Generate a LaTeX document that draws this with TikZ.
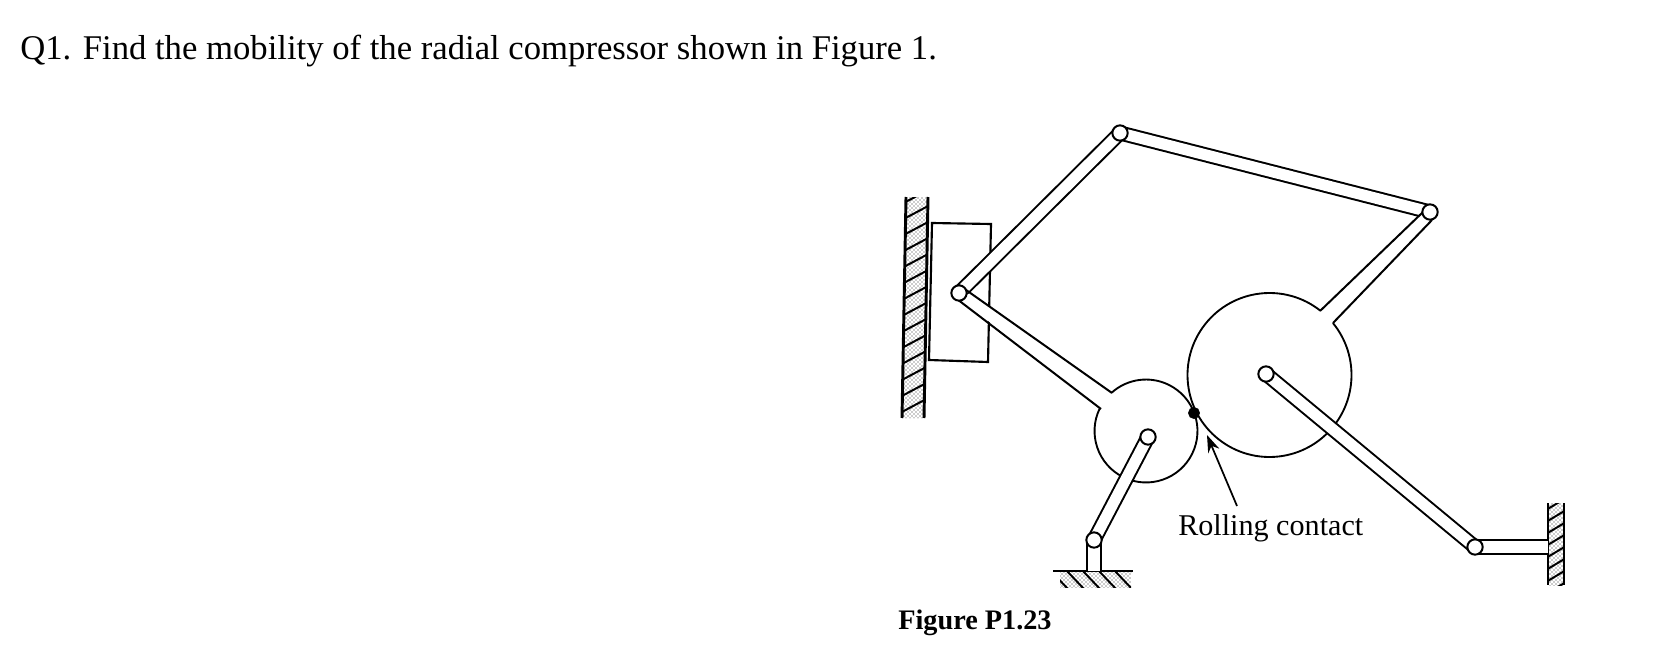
\documentclass[tikz,border=0pt]{standalone}
\usepackage{fontspec}
\setmainfont{Liberation Serif}
\usetikzlibrary{arrows.meta,backgrounds,patterns}
\begin{document}
\begin{tikzpicture}[
x=0.75pt, y=-0.75pt,
pivot/.style={circle, draw=black, fill=white, line width=1.5pt, inner sep=0pt, minimum size=11.5pt},
contact/.style={circle, draw=black, fill=black, inner sep=0pt, minimum size=8.5pt},
link/.style={draw=black, line width=1.5pt, double=white, double distance=8.3pt},
arm/.style={draw=black, line width=1.5pt},
wheel/.style={draw=black, line width=1.4pt},
block/.style={draw=black, fill=white, line width=1.6pt},
stipple/.style={pattern=crosshatch dots, pattern color=black!85},
stripe/.style={line width=1.5pt, draw=black},
wallside/.style={line width=2.2pt, draw=black},
leader/.style={line width=1.3pt, -{Stealth[length=13pt, width=9pt]}},
title/.style={anchor=base west, font=\fontsize{26pt}{28pt}\selectfont, inner sep=0pt},
caption/.style={anchor=base west, font=\fontsize{21.2pt}{24pt}\selectfont\bfseries, inner sep=0pt},
note/.style={anchor=base west, font=\fontsize{22.6pt}{24pt}\selectfont, inner sep=0pt},
]
\useasboundingbox (0,0) rectangle (1666,660);
\node[title] (question) at (20,60) {Q1. Find the mobility of the radial compressor shown in Figure 1.};
\node[caption] (figure) at (898,629) {Figure P1.23};
\node[note] (rolling) at (1178,535) {Rolling contact};
\node[pivot] (top) at (1120,133) {};
\node[pivot] (left) at (959,293) {};
\node[pivot] (right) at (1430,212) {};
\node[pivot] (bighub) at (1266,374) {};
\node[pivot] (smallhub) at (1148,437) {};
\node[pivot] (base) at (1094,540) {};
\node[pivot] (far) at (1475,547) {};
\node[contact] (touch) at (1194,413) {};
\coordinate (bigwheel) at (1269.5,375);
\coordinate (smallwheel) at (1146,431);
\coordinate (basefoot) at (1094,571);
\coordinate (farwall) at (1548,547);
\coordinate (tip) at (1207,435);
\coordinate (tail) at (1237,506);
\begin{pgfonlayer}{background}
	\begin{scope}
		\clip (906,197) -- (928,197) -- (924,418) -- (902,418) -- cycle;
		\path[stipple] (900,195) rectangle (930,420);
		\foreach \y in {205,221,...,425} {
			\draw[stripe] (900,\y) -- (930,\y-16);
		}
	\end{scope}
	\draw[wallside] (906,197) -- (902,418);
	\draw[wallside] (928,197) -- (924,418);
	\draw[block] (932,223) -- (991,224) -- (988,362) -- (929,360) -- cycle;
	\begin{scope}
		\clip (1548,503) rectangle (1564,585);
		\path[stipple] (1548,503) rectangle (1564,585);
		\foreach \y in {510,522,...,595} {
			\draw[stripe] (1546,\y) -- (1566,\y-12);
		}
	\end{scope}
	\draw[wallside] (1548,503) -- (1548,585);
	\draw[wallside] (1564,503) -- (1564,585);
	\begin{scope}
		\clip (1060,572) rectangle (1131,587);
		\path[stipple] (1060,572) rectangle (1131,587);
		\foreach \x in {1050,1066,...,1130} {
			\draw[stripe] (\x,570) -- (\x+18,589);
		}
	\end{scope}
	\draw[wallside] (1053,571) -- (1133,571);
	\draw[wheel] (bigwheel) ++(51.7:61.5pt) arc[start angle=51.7, end angle=399.3, radius=61.5pt];
	\draw[wheel] (smallwheel) ++(154:38.6pt) arc[start angle=154, end angle=491.8, radius=38.6pt];
	\draw[link] (top.center) -- (left.center);
	\draw[link] (top.center) -- (right.center);
	\draw[link] (bighub.center) -- (far.center);
	\draw[link] (far.center) -- (farwall);
	\draw[link] (smallhub.center) -- (base.center);
	\draw[link] (base.center) -- (basefoot);
	\fill[white] (970,293) -- (1112,393) -- (1101,409) -- (960,299) -- cycle;
	\draw[arm] (959,285) -- (1112,393) (953,296) -- (1101,409);
	\fill[white] (1423,212) -- (1320,311) -- (1333,323) -- (1432,220) -- cycle;
	\draw[arm] (1423,212) -- (1320,311) (1432,220) -- (1333,323);
\end{pgfonlayer}
\draw[leader] (tail) -- (tip);
\end{tikzpicture}
\end{document}
